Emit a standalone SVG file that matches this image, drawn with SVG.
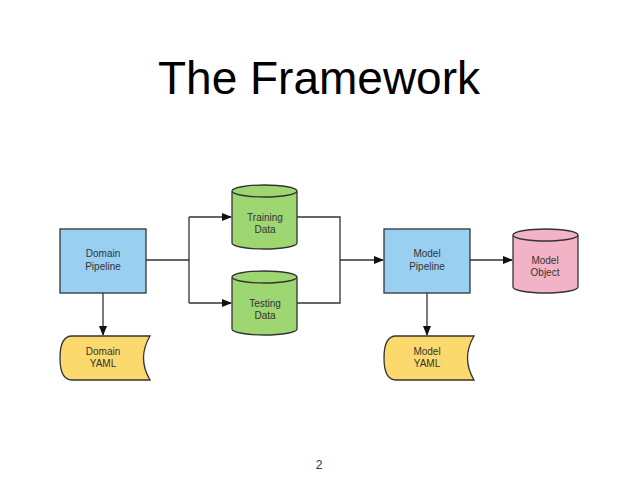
<svg xmlns="http://www.w3.org/2000/svg" width="638" height="479" viewBox="0 0 638 479">
<style>
text{font-family:"Liberation Sans",Arial,sans-serif;text-anchor:middle}
.lbl{font-size:10px;fill:#333}
.box{stroke:#333;stroke-width:1.3}
.c{fill:none;stroke:#333;stroke-width:1.3}
</style>
<defs><marker id="a" markerWidth="10" markerHeight="8" refX="9" refY="4" orient="auto" markerUnits="userSpaceOnUse"><path d="M0,0 L10,4 L0,8 Z" fill="#111"/></marker></defs>
<rect width="638" height="479" fill="#fff"/>
<text x="319" y="94" font-size="46" fill="#000">The Framework</text>
<text x="319" y="469" font-size="12" fill="#333">2</text>
<g id="connectors">
<path class="c" d="M146,260 H189 M189,217 V303"/>
<path class="c" d="M189,217 H231" marker-end="url(#a)"/>
<path class="c" d="M189,303 H231" marker-end="url(#a)"/>
<path class="c" d="M297,217 H340 V303 H297 M340,260 H383" marker-end="url(#a)"/>
<path class="c" d="M470,260 H512" marker-end="url(#a)"/>
<path class="c" d="M103,293 V335" marker-end="url(#a)"/>
<path class="c" d="M427,293 V335" marker-end="url(#a)"/>
</g>
<g id="domain-pipeline"><rect class="box" x="60" y="229" width="86" height="64" fill="#99cff1"/><text class="lbl" x="103" y="257">Domain</text><text class="lbl" x="103" y="270">Pipeline</text></g>
<g id="training-data"><path class="box" d="M232,191 V243 A32.5,6 0 0 0 297,243 V191 A32.5,6 0 0 0 232,191 A32.5,6 0 0 0 297,191" fill="#9ed672"/><text class="lbl" x="265" y="221">Training</text><text class="lbl" x="265" y="233">Data</text></g>
<g id="testing-data"><path class="box" d="M232,277 V329 A32.5,6 0 0 0 297,329 V277 A32.5,6 0 0 0 232,277 A32.5,6 0 0 0 297,277" fill="#9ed672"/><text class="lbl" x="265" y="307">Testing</text><text class="lbl" x="265" y="319">Data</text></g>
<g id="model-pipeline"><rect class="box" x="384" y="229" width="86" height="64" fill="#99cff1"/><text class="lbl" x="427" y="257">Model</text><text class="lbl" x="427" y="270">Pipeline</text></g>
<g id="model-object"><path class="box" d="M513,235 V287 A32.5,6 0 0 0 578,287 V235 A32.5,6 0 0 0 513,235 A32.5,6 0 0 0 578,235" fill="#f2b3c6"/><text class="lbl" x="545" y="264">Model</text><text class="lbl" x="545" y="276">Object</text></g>
<g id="domain-yaml"><path class="box" d="M72,336 H150 Q137,358 150,380 H72 Q60,380 60,358 Q60,336 72,336 Z" fill="#fcd96d"/><text class="lbl" x="103" y="355">Domain</text><text class="lbl" x="103" y="367">YAML</text></g>
<g id="model-yaml"><path class="box" d="M396,336 H474 Q461,358 474,380 H396 Q384,380 384,358 Q384,336 396,336 Z" fill="#fcd96d"/><text class="lbl" x="427" y="355">Model</text><text class="lbl" x="427" y="367">YAML</text></g>
</svg>
